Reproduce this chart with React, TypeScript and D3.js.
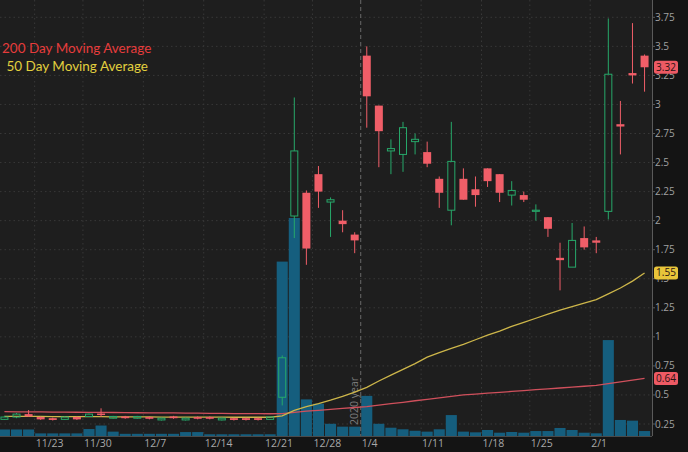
import React from "react";
import * as d3 from "d3";

const dates = ["11/18","11/19","11/20","11/23","11/24","11/25","11/27","11/30","12/1","12/2","12/3","12/4","12/7","12/8","12/9","12/10","12/11","12/14","12/15","12/16","12/17","12/18","12/21","12/22","12/23","12/24","12/28","12/29","12/30","12/31","1/4","1/5","1/6","1/7","1/8","1/11","1/12","1/13","1/14","1/15","1/19","1/20","1/21","1/22","1/25","1/26","1/27","1/28","1/29","2/1","2/2","2/3","2/4","2/5"];

const opens = [0.29,0.31,0.335,0.31,0.30,0.29,0.31,0.315,0.34,0.30,0.315,0.30,0.31,0.285,0.315,0.285,0.31,0.31,0.285,0.30,0.30,0.30,0.29,
  0.48,2.04,2.24,2.40,2.16,2.00,1.88,
  3.42,2.99,2.60,2.57,2.68,2.59,2.36,2.09,2.36,2.27,2.45,2.40,2.22,2.22,2.08,2.03,1.68,1.60,1.85,1.83,2.08,2.83,3.27,3.42];
const closes = [0.31,0.335,0.315,0.29,0.285,0.31,0.29,0.335,0.335,0.315,0.30,0.315,0.295,0.30,0.30,0.30,0.295,0.295,0.30,0.285,0.285,0.285,0.31,
  0.82,2.60,1.76,2.25,2.18,1.97,1.83,
  3.07,2.77,2.62,2.80,2.70,2.49,2.24,2.51,2.18,2.22,2.34,2.24,2.26,2.18,2.09,1.93,1.66,1.83,1.77,1.81,3.26,2.81,3.25,3.32];
const highs = [0.32,0.345,0.37,0.315,0.305,0.315,0.315,0.34,0.385,0.32,0.32,0.32,0.315,0.305,0.32,0.305,0.315,0.315,0.305,0.305,0.305,0.305,0.315,
  0.84,3.06,2.26,2.47,2.20,2.09,1.90,
  3.50,2.99,2.70,2.85,2.75,2.68,2.38,2.85,2.45,2.38,2.45,2.40,2.34,2.25,2.14,2.03,1.81,1.98,1.95,1.86,3.74,3.03,3.70,3.43];
const lows = [0.285,0.30,0.31,0.285,0.28,0.285,0.285,0.31,0.31,0.295,0.295,0.295,0.29,0.28,0.295,0.28,0.29,0.29,0.28,0.28,0.28,0.28,0.285,
  0.41,1.85,1.62,2.11,1.86,1.90,1.72,
  2.80,2.46,2.40,2.42,2.57,2.46,2.11,1.96,2.18,2.12,2.29,2.16,2.13,2.16,2.00,1.86,1.40,1.60,1.75,1.72,2.01,2.57,3.18,3.11];
const volumes = [0.75,0.75,0.75,0.3,0.3,0.3,0.3,0.8,1.2,0.5,0.25,0.25,0.25,0.25,0.25,0.45,0.45,0.2,0.2,0.2,0.2,0.2,0.2,
  20.0,25.0,4.2,3.7,1.4,1.07,1.07,
  4.6,1.4,0.95,0.77,0.6,0.5,0.77,2.4,0.5,0.42,0.69,0.38,0.46,0.38,0.57,0.57,0.92,0.69,0.38,0.31,11.0,1.84,1.76,0.57];
const ma200 = [0.356,0.355,0.354,0.354,0.353,0.352,0.351,0.350,0.350,0.349,0.348,0.347,0.346,0.345,0.345,0.344,0.343,0.342,0.341,0.340,0.340,0.339,0.338,
  0.340,0.350,0.360,0.368,0.376,0.384,0.392,
  0.400,0.412,0.425,0.437,0.450,0.462,0.475,0.487,0.500,0.507,0.515,0.522,0.530,0.537,0.545,0.552,0.560,0.567,0.575,0.582,0.597,0.612,0.627,0.642];
const ma50 = [0.315,0.315,0.316,0.315,0.314,0.314,0.313,0.313,0.313,0.312,0.312,0.311,0.311,0.310,0.310,0.310,0.309,0.309,0.309,0.308,0.308,0.308,0.308,
  0.320,0.368,0.400,0.425,0.455,0.488,0.525,
  0.565,0.620,0.670,0.720,0.770,0.825,0.865,0.900,0.935,0.975,1.015,1.050,1.090,1.125,1.160,1.195,1.230,1.260,1.290,1.320,1.370,1.420,1.480,1.550];

const priceTicks = [0.25,0.5,0.75,1,1.25,1.5,1.75,2,2.25,2.5,2.75,3,3.25,3.5,3.75];
const weekStartDates = ["11/23","11/30","12/7","12/14","12/21","12/28","1/4","1/11","1/19","1/25","2/1"];
const weekLabels = ["11/23","11/30","12/7","12/14","12/21","12/28","1/4","1/11","1/18","1/25","2/1"];
const yearBoundaryDate = "1/4";
const yearLabel = "2020 year";
const legendItems = ["200 Day Moving Average", "50 Day Moving Average"];

const W = 688, H = 452;
const plotRight = 652, plotBottom = 436;
const UP = "#27a86a", DOWN = "#f05e68", VOL = "#155e7e";
const C200 = "#d0505c", C50 = "#cdb64a";

export default function App() {
  const x = d3.scaleBand<string>().domain(dates).range([-1.6, 650.6]).padding(0);
  const step = x.step();
  const cx = (d: string) => (x(d) as number) + step / 2;
  const y = d3.scaleLinear().domain([0.25, 3.75]).range([424, 17.3]);
  const vy = d3.scaleLinear().domain([0, 50]).range([plotBottom, 0]);
  const bodyW = 8;

  const line200 = d3.line<number>().x((_, i) => cx(dates[i])).y(v => y(v));
  const line50 = d3.line<number>().x((_, i) => cx(dates[i])).y(v => y(v));

  const last = dates.length - 1;
  const badges = [
    { v: closes[last], fill: "#ee5a64" },
    { v: ma50[last], fill: "#e8c53a" },
    { v: ma200[last], fill: "#ee5a64" },
  ];

  const yearX = x(yearBoundaryDate) as number;

  return (
    <svg width={W} height={H} style={{ position: "fixed", left: 0, top: 0, background: "#141414" }}
      fontFamily="'Open Sans', sans-serif">
      <defs>
        <clipPath id="plot"><rect x={0} y={0} width={plotRight} height={plotBottom} /></clipPath>
      </defs>
      <rect x={0} y={0} width={plotRight} height={plotBottom} fill="#1e1e1e" />
      <g clipPath="url(#plot)">
        {priceTicks.map(t => (
          <line key={"h" + t} x1={0} x2={plotRight} y1={y(t)} y2={y(t)} stroke="#383838" strokeWidth={1} strokeDasharray="1.5,3" />
        ))}
        {weekStartDates.filter(d => d !== yearBoundaryDate).map(d => (
          <line key={"v" + d} x1={x(d) as number} x2={x(d) as number} y1={0} y2={plotBottom} stroke="#383838" strokeWidth={1} strokeDasharray="1.5,3" />
        ))}
        {dates.map((d, i) => (
          <rect key={"vol" + d} x={(x(d) as number) + 0.5} width={step - 1} y={vy(volumes[i])} height={plotBottom - vy(volumes[i])} fill={VOL} />
        ))}
        <line x1={yearX} x2={yearX} y1={0} y2={plotBottom} stroke="#6a6a6a" strokeWidth={1} strokeDasharray="4,3" />
        <text transform={`translate(${yearX - 2.5},401) rotate(-90)`} textAnchor="middle" fill="#7c7c7c" fontSize={10.5}>{yearLabel}</text>
        <path d={line200(ma200) || ""} fill="none" stroke={C200} strokeWidth={1.3} />
        <path d={line50(ma50) || ""} fill="none" stroke={C50} strokeWidth={1.3} />
        {dates.map((d, i) => {
          const o = opens[i], c = closes[i], h = highs[i], l = lows[i];
          const up = c >= o;
          const xc = cx(d);
          const top = y(Math.max(o, c)), bot = y(Math.min(o, c));
          const col = up ? UP : DOWN;
          if (up) {
            const bh = Math.max(bot - top, 1);
            return (
              <g key={"c" + d}>
                <line x1={xc} x2={xc} y1={y(h)} y2={top} stroke={col} strokeWidth={1} />
                <line x1={xc} x2={xc} y1={top + bh} y2={y(l)} stroke={col} strokeWidth={1} />
                <rect x={xc - bodyW / 2 + 0.5} y={top} width={bodyW - 1} height={bh} fill="none" stroke={col} strokeWidth={1} />
              </g>
            );
          }
          return (
            <g key={"c" + d}>
              <line x1={xc} x2={xc} y1={y(h)} y2={y(l)} stroke={col} strokeWidth={1} />
              <rect x={xc - bodyW / 2} y={top} width={bodyW} height={Math.max(bot - top, 1.5)} fill={col} />
            </g>
          );
        })}
      </g>
      <line x1={plotRight + 0.5} x2={plotRight + 0.5} y1={0} y2={plotBottom} stroke="#5a5a5a" />
      <line x1={0} x2={plotRight} y1={plotBottom + 0.5} y2={plotBottom + 0.5} stroke="#4a4a4a" />
      {priceTicks.map(t => (
        <g key={"t" + t}>
          <line x1={plotRight} x2={plotRight + 3} y1={y(t)} y2={y(t)} stroke="#5a5a5a" />
          <text x={655} y={y(t)} dy="0.35em" fill="#a0a0a0" fontSize={10}>{String(t)}</text>
        </g>
      ))}
      {weekStartDates.map((d, i) => (
        <text key={"xl" + d} x={(x(d) as number) + 1} y={447} fill="#a8a8a8" fontSize={10.5}>{weekLabels[i]}</text>
      ))}
      {badges.map((b, i) => (
        <g key={"b" + i}>
          <rect x={654} y={y(b.v) - 6.5} width={24} height={13} rx={2.5} fill={b.fill} />
          <text x={666} y={y(b.v)} dy="0.35em" textAnchor="middle" fill="#2a1212" fontSize={10}>{b.v.toFixed(2)}</text>
        </g>
      ))}
      <text x={2} y={52.5} fill="#e63c3c" fontSize={13.5} fontFamily="Lato, sans-serif">{legendItems[0]}</text>
      <text x={6.5} y={70.5} fill="#e2d03e" fontSize={13.5} fontFamily="Lato, sans-serif">{legendItems[1]}</text>
    </svg>
  );
}
